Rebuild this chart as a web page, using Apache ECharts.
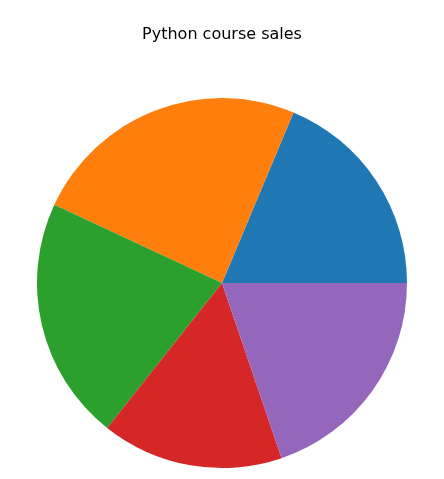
<!DOCTYPE html>
<html><head><meta charset="utf-8">
<script src="https://cdn.jsdelivr.net/npm/echarts@6/dist/echarts.min.js"></script>
<style>html,body{margin:0;padding:0;background:#fff}#c{width:444px;height:479px}</style>
</head><body><div id="c"></div>
<script>
const categories = ['A', 'B', 'C', 'D', 'E'];
const values = [18.7, 24.4, 21.3, 15.9, 19.8];
const colors = ['#1f77b4', '#ff7f0e', '#2ca02c', '#d62728', '#9467bd'];
const chart = echarts.init(document.getElementById('c'));
chart.setOption({
  animation: false,
  title: { text: 'Python course sales', left: 'center', top: 22,
    textStyle: { fontFamily: 'DejaVu Sans', fontSize: 16, fontWeight: 'normal', color: '#000' } },
  series: [{
    type: 'pie', center: [222, 283], radius: 185, startAngle: 0, clockwise: false,
    label: { show: false }, labelLine: { show: false },
    data: categories.map((n, i) => ({ name: n, value: values[i], itemStyle: { color: colors[i] } }))
  }]
});
</script></body></html>
